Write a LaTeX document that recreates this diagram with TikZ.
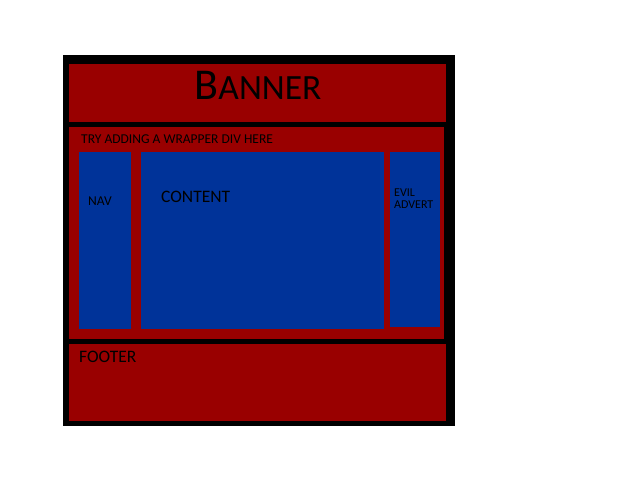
\documentclass[tikz,border=0pt]{standalone}
\usepackage{xcolor}
\usepackage{fontspec}
\setsansfont{Carlito}
\definecolor{divred}{HTML}{990000}
\definecolor{divblue}{HTML}{003399}
\tikzset{
  label text/.style={anchor=base west, inner sep=0pt, text=black, font=\sffamily},
}
\begin{document}
\begin{tikzpicture}[x=1pt,y=-1pt]
\useasboundingbox (0,0) rectangle (640,480);
% outer frame
\fill [black] (63,55) rectangle (455,426);
% banner
\fill [divred] (69,64) rectangle (446,122);
\node (banner) [label text, anchor=base] at (258,99) {\fontsize{44}{44}\selectfont B\fontsize{35.5}{35.5}\selectfont ANNER};
% wrapper
\fill [divred] (69,127) rectangle (444,339);
\node (wrapper) [label text, font=\sffamily\fontsize{13.5}{13.5}\selectfont] at (81,143) {TRY ADDING A WRAPPER DIV HERE};
% nav, content, advert
\fill [divblue] (79,152) rectangle (131,329);
\fill [divblue] (141,152) rectangle (384,329);
\fill [divblue] (390,152) rectangle (440,327);
\node (nav) [label text, font=\sffamily\fontsize{13.5}{13.5}\selectfont] at (88,205) {NAV};
\node (content) [label text, font=\sffamily\fontsize{17.5}{17.5}\selectfont] at (161,202) {CONTENT};
\node (evil) [label text, font=\sffamily\fontsize{12}{12}\selectfont] at (394,196) {EVIL};
\node (advert) [label text, font=\sffamily\fontsize{12}{12}\selectfont] at (394,208) {ADVERT};
% footer
\fill [divred] (69,344) rectangle (446,421);
\node (footer) [label text, font=\sffamily\fontsize{17.5}{17.5}\selectfont] at (79,362) {FOOTER};
\end{tikzpicture}
\end{document}
